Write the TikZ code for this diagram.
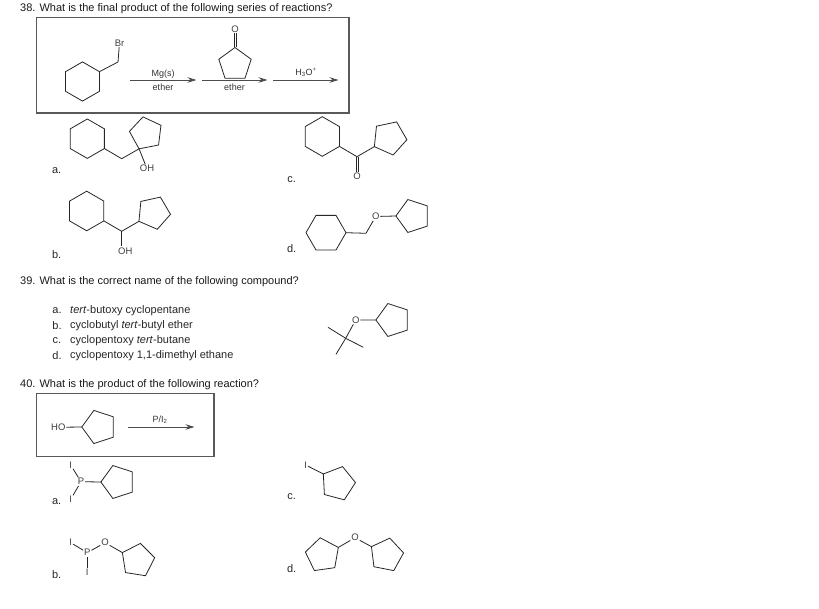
\documentclass[tikz,border=0pt]{standalone}
\usepackage{fontspec}
\setmainfont{Liberation Sans}
\usetikzlibrary{arrows.meta}

\tikzset{
  bond/.style={line width=0.8pt, black!85, line join=miter},
  framebox/.style={line width=1.2pt, black!65},
  rxn/.style={line width=0.9pt, black!70, -{Stealth[length=9pt,width=5.5pt]}},
  atom/.style={inner sep=0.8pt, text=black!75, font=\fontsize{9.5}{10}\selectfont},
  rlabel/.style={inner sep=0pt, text=black!80, font=\fontsize{9}{10}\selectfont},
  ask/.style={anchor=west, inner sep=0pt, text=black!90, font=\fontsize{11}{12}\selectfont},
  opt/.style={inner sep=0pt, text=black!85, font=\fontsize{11}{12}\selectfont},
}

% name, sides, centre x, centre y, first angle, radius
\newcommand{\ringat}[6]{%
  \foreach \k in {1,...,#2}
    \coordinate (#1\k) at ({#3+#6*cos(#5+360*(\k-1)/#2)},{#4+#6*sin(#5+360*(\k-1)/#2)});
  \draw[bond] (#11) \foreach \k in {2,...,#2} {-- (#1\k)} -- cycle;
}

\begin{document}
\begin{tikzpicture}[x=1pt,y=-1pt]
\useasboundingbox (0,0) rectangle (819,609);

% question 38
\node[ask] (qa) at (20,9) {38. What is the final product of the following series of reactions?};
\draw[framebox] (36.7,17.5) rectangle (349,113);

\ringat{sm}{6}{82.5}{81.5}{-90}{19.6}
\coordinate (smch) at (118,62);
\node[atom] (smbr) at (119.5,43) {Br};
\draw[bond] (sm2) -- (smch) -- (smbr);

\ringat{kt}{5}{235}{64.5}{-90}{17}
\node[atom] (kto) at (235,29) {O};
\draw[bond] ([xshift=-1pt]kt1) -- ([xshift=-1pt]kto.south);
\draw[bond] ([xshift=1pt]kt1) -- ([xshift=1pt]kto.south);

\coordinate (ra) at (130,80);
\coordinate (rb) at (196.5,80);
\coordinate (rc) at (202,80);
\coordinate (rd) at (267.5,80);
\coordinate (re) at (273,80);
\coordinate (rf) at (338.5,80);
\draw[rxn] (ra) -- (rb);
\draw[rxn] (rc) -- (rd);
\draw[rxn] (re) -- (rf);
\node[rlabel] (lmg) at (163,74) {Mg(s)};
\node[rlabel] (leth) at (163,87) {ether};
\node[rlabel] (leti) at (234.5,87) {ether};
\node[rlabel] (lhyd) at (306,72.5) {H\textsubscript{3}O\textsuperscript{+}};

% answer a
\ringat{ah}{6}{87.3}{138.7}{-90}{19.7}
\ringat{ap}{5}{146.2}{133.5}{115}{16.9}
\coordinate (ach) at (121.7,158.7);
\node[atom] (aoh) at (147,168.7) {OH};
\draw[bond] (ah3) -- (ach) -- (ap1) -- (aoh);
\node[opt] (la) at (56.7,170.5) {a.};

% answer b
\ringat{bh}{6}{86.7}{211}{-90}{19.8}
\ringat{bp}{5}{153.6}{212.7}{149.5}{17}
\coordinate (bch) at (121.7,231.3);
\node[atom] (boh) at (125.3,251.5) {OH};
\coordinate (bohb) at (121.7,246);
\draw[bond] (bh3) -- (bch) -- (bp1);
\draw[bond] (bch) -- (bohb);
\node[opt] (lb) at (56.7,254.5) {b.};

% answer c
\ringat{ch}{6}{322.3}{136.5}{-90}{19.8}
\ringat{cp}{5}{389.5}{137.9}{150}{17.5}
\coordinate (cco) at (357,156.7);
\node[atom] (coo) at (357,176.5) {O};
\draw[bond] (ch3) -- (cco) -- (cp1);
\draw[bond] ([xshift=-1pt]cco) -- ([xshift=-1pt]coo.north);
\draw[bond] ([xshift=1pt]cco) -- ([xshift=1pt]coo.north);
\node[opt] (lc) at (291.7,179.5) {c.};

% answer d
\ringat{dh}{6}{326}{232.7}{0}{20}
\ringat{dp}{5}{413.2}{216}{180}{17.3}
\coordinate (dch) at (366,233.3);
\node[atom] (doo) at (375.7,216.5) {O};
\draw[bond] (dh1) -- (dch) -- (doo) -- (dp1);
\node[opt] (ld) at (291.7,248.5) {d.};

% question 39
\node[ask] (qb) at (20,282) {39. What is the correct name of the following compound?};
\node[opt] (oa) at (57,310.5) {a.};
\node[opt,anchor=west] (na) at (70,310.5) {\textit{tert}-butoxy cyclopentane};
\node[opt] (ob) at (57,325.5) {b.};
\node[opt,anchor=west] (nb) at (70,325.5) {cyclobutyl \textit{tert}-butyl ether};
\node[opt] (oc) at (57,340.5) {c.};
\node[opt,anchor=west] (nc) at (70,340.5) {cyclopentoxy \textit{tert}-butane};
\node[opt] (od) at (57,355.5) {d.};
\node[opt,anchor=west] (nd) at (70,355.5) {cyclopentoxy 1,1-dimethyl ethane};

\ringat{ep}{5}{393.2}{320}{180}{17.3}
\node[atom] (eoo) at (355.7,320) {O};
\coordinate (ecc) at (345.7,338.3);
\coordinate (ema) at (328,327.3);
\coordinate (emb) at (363.3,347.3);
\coordinate (emc) at (336,354.3);
\draw[bond] (ep1) -- (eoo) -- (ecc);
\draw[bond] (ema) -- (ecc) -- (emb);
\draw[bond] (ecc) -- (emc);

% question 40
\node[ask] (qc) at (20,385) {40. What is the product of the following reaction?};
\draw[framebox] (36.7,393.3) rectangle (214,456.5);

\ringat{fp}{5}{99.2}{427}{180}{17.4}
\node[atom] (fho) at (58.3,427.3) {HO};
\draw[bond] (fho) -- (fp1);
\coordinate (rg) at (128.3,427);
\coordinate (rh) at (194.5,427);
\draw[rxn] (rg) -- (rh);
\node[rlabel] (lpi) at (160,420) {P/I\textsubscript{2}};

% answer a
\ringat{gp}{5}{118.2}{482}{180}{17.3}
\node[atom] (gpp) at (81,481.7) {P};
\node[atom] (gia) at (70.7,465) {I};
\node[atom] (gib) at (70.7,499.3) {I};
\draw[bond] (gp1) -- (gpp) -- (gia);
\draw[bond] (gpp) -- (gib);
\node[opt] (lg) at (56.7,501.5) {a.};

% answer b
\ringat{hp}{5}{137.7}{560.4}{207}{17.2}
\node[atom] (hpp) at (87.3,552.7) {P};
\node[atom] (hoo) at (105,542.7) {O};
\node[atom] (hia) at (70.7,542.7) {I};
\node[atom] (hib) at (87.3,572.7) {I};
\draw[bond] (hp1) -- (hoo) -- (hpp) -- (hia);
\draw[bond] (hpp) -- (hib);
\node[opt] (lh) at (56.7,574.5) {b.};

% answer c
\ringat{ip}{5}{338}{483.5}{213}{17.5}
\node[atom] (iia) at (305.7,465) {I};
\draw[bond] (ip1) -- (iia);
\node[opt] (li) at (291.7,496.5) {c.};

% answer d
\ringat{jp}{5}{322.6}{555.1}{-26}{17.5}
\ringat{kp}{5}{386.5}{555}{209}{17.2}
\node[atom] (joo) at (355,537.7) {O};
\draw[bond] (jp1) -- (joo) -- (kp1);
\node[opt] (lj) at (291.7,568.5) {d.};

\end{tikzpicture}
\end{document}
